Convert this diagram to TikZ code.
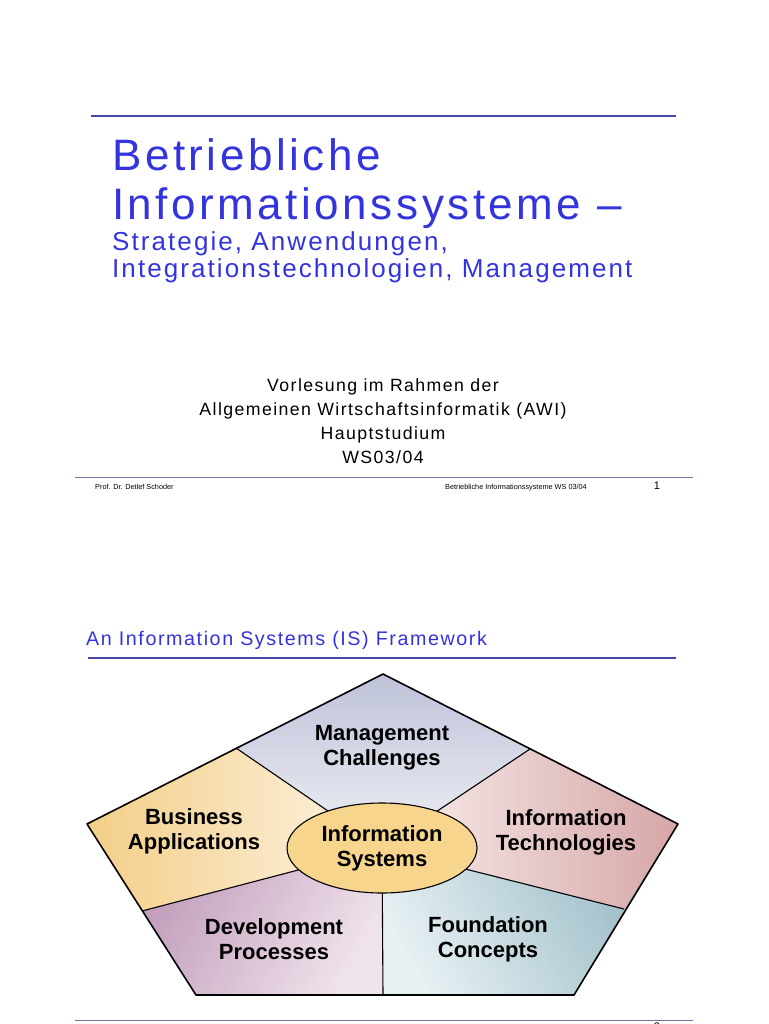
\documentclass[tikz,border=0pt]{standalone}
\usepackage{fontspec}
\setmainfont{Liberation Sans}
\newfontfamily\slidefont[LetterSpace=8]{Liberation Sans}
\usetikzlibrary{shapes.geometric}
\definecolor{slideblue}{RGB}{52,52,222}
\definecolor{ruleblue}{RGB}{70,70,170}
\definecolor{footgray}{RGB}{115,115,165}
\definecolor{mcdark}{RGB}{190,194,216}
\definecolor{mclight}{RGB}{240,241,246}
\definecolor{badark}{RGB}{243,206,136}
\definecolor{balight}{RGB}{253,244,228}
\definecolor{itdark}{RGB}{214,166,168}
\definecolor{itlight}{RGB}{249,239,237}
\definecolor{dpdark}{RGB}{194,158,188}
\definecolor{dplight}{RGB}{240,228,236}
\definecolor{fcdark}{RGB}{164,194,204}
\definecolor{fclight}{RGB}{232,241,244}
\definecolor{isfill}{RGB}{248,213,141}
\tikzset{
  bigtitle/.style={anchor=base west, inner sep=0pt, text=slideblue,
    font=\slidefont\fontsize{44}{48}\selectfont},
  subtitle/.style={anchor=base west, inner sep=0pt, text=slideblue,
    font=\slidefont\fontsize{26}{30}\selectfont},
  lecture/.style={anchor=base, inner sep=0pt,
    font=\slidefont\fontsize{17.7}{20}\selectfont},
  foot/.style={anchor=base west, inner sep=0pt,
    font=\fontsize{7.3}{9}\selectfont},
  pagenum/.style={anchor=base, inner sep=0pt,
    font=\fontsize{11}{13}\selectfont},
  rule/.style={draw=ruleblue, line width=1.5pt},
  footrule/.style={draw=footgray, line width=1pt},
  field/.style={align=center, inner sep=0pt,
    font=\fontsize{22}{25}\selectfont\bfseries}
}
\begin{document}
\begin{tikzpicture}[x=1pt,y=-1pt]
  \useasboundingbox[fill=white] (0,0) rectangle (768,1024);

  \coordinate (r1a) at (91,116);
  \coordinate (r1b) at (676,116);
  \draw[rule] (r1a) -- (r1b);

  \node[bigtitle] (t1) at (112,171) {Betriebliche};
  \node[bigtitle] (t2) at (112,219) {Informationssysteme –};
  \node[subtitle] (t3) at (112,250) {Strategie, Anwendungen,};
  \node[subtitle] (t4) at (112,277) {Integrationstechnologien, Management};

  \node[lecture] (v1) at (383,391) {Vorlesung im Rahmen der};
  \node[lecture] (v2) at (383,415) {Allgemeinen Wirtschaftsinformatik (AWI)};
  \node[lecture] (v3) at (383,439) {Hauptstudium};
  \node[lecture] (v4) at (383,463) {WS03/04};

  \coordinate (f1a) at (75,477);
  \coordinate (f1b) at (693,477);
  \draw[footrule] (f1a) -- (f1b);
  \node[foot] (fa) at (95,489) {Prof. Dr. Detlef Schoder};
  \node[foot] (fb) at (445,489) {Betriebliche Informationssysteme WS 03/04};
  \node[pagenum] (p1) at (657,489) {1};

  \node[subtitle, font=\slidefont\fontsize{19.7}{24}\selectfont] (h) at (86,645)
    {An Information Systems (IS) Framework};
  \coordinate (r2a) at (88,658);
  \coordinate (r2b) at (676,658);
  \draw[rule] (r2a) -- (r2b);

  \coordinate (pt) at (383,674);
  \coordinate (pl) at (87,824);
  \coordinate (pr) at (678,824);
  \coordinate (pbl) at (196,995);
  \coordinate (pbr) at (574,995);
  \coordinate (pa) at (236,748);
  \coordinate (pb) at (530,749);
  \coordinate (pc) at (142,911);
  \coordinate (pd) at (624,909);
  \coordinate (pe) at (383,995);
  \coordinate (o) at (382,848);

  \fill[gray!60, xshift=1.5pt, yshift=-1.5pt] (pr) -- (pbr) -- (pbl) -- (pl) -- (pt) -- cycle;
  \shade[top color=mcdark, bottom color=mclight] (pa) -- (pt) -- (pb) -- (o) -- cycle;
  \shade[left color=badark, right color=balight] (pl) -- (pa) -- (o) -- (pe) -- (pbl) -- (pc) -- cycle;
  \shade[left color=itlight, right color=itdark] (pb) -- (pr) -- (pd) -- (pe) -- (o) -- cycle;
  \shade[left color=dpdark, right color=dplight, shading angle=60] (pc) -- (o) -- (pe) -- (pbl) -- cycle;
  \shade[left color=fclight, right color=fcdark, shading angle=120] (o) -- (pd) -- (pbr) -- (pe) -- cycle;

  \draw[line width=1.1pt] (pa) -- (o);
  \draw[line width=1.1pt] (pb) -- (o);
  \draw[line width=1.1pt] (pc) -- (o);
  \draw[line width=1.1pt] (pd) -- (o);
  \draw[line width=1.1pt] (pe) -- (o);
  \draw[line width=1.6pt, line join=round] (pt) -- (pr) -- (pbr) -- (pbl) -- (pl) -- cycle;

  \node[field, ellipse, draw, line width=1.1pt, fill=isfill,
    minimum width=190, minimum height=90] (is) at (o) {Information\\Systems};
  \node[field] (mc) at (382,748) {Management\\Challenges};
  \node[field] (ba) at (194,831) {Business\\Applications};
  \node[field] (it) at (566,832) {Information\\Technologies};
  \node[field] (dp) at (274,939) {Development\\Processes};
  \node[field] (fc) at (488,939) {Foundation\\Concepts};

  \coordinate (f2a) at (75,1020);
  \coordinate (f2b) at (693,1020);
  \draw[footrule] (f2a) -- (f2b);
  \node[pagenum] (p2) at (657,1030) {2};
\end{tikzpicture}
\end{document}
